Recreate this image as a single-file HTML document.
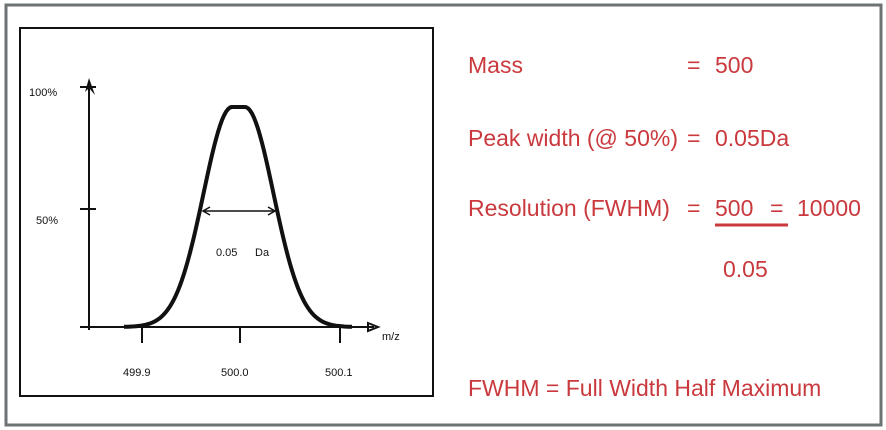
<!DOCTYPE html>
<html><head><meta charset="utf-8"><style>
html,body{margin:0;padding:0;background:#fff;}
svg{display:block;}
.r{font-family:"Liberation Sans",sans-serif;font-size:23px;fill:#c9393d;}
.b{font-family:"Liberation Sans",sans-serif;font-size:11px;fill:#111;}
</style></head><body>
<svg width="886" height="430" viewBox="0 0 886 430" xmlns="http://www.w3.org/2000/svg">
<rect x="0" y="0" width="886" height="430" fill="#fff"/>
<rect x="6" y="5" width="875" height="420" fill="none" stroke="#6d7275" stroke-width="3"/>
<rect x="20" y="28" width="413" height="368" fill="none" stroke="#111" stroke-width="2"/>
<line x1="89" y1="83" x2="89" y2="330" stroke="#111" stroke-width="2"/>
<path d="M89,78 L85,92 L89,88 L95,95 Z" fill="#111"/>
<line x1="80" y1="87" x2="96" y2="87" stroke="#111" stroke-width="2"/>
<line x1="80" y1="209" x2="96" y2="209" stroke="#111" stroke-width="2"/>
<line x1="80" y1="327" x2="374" y2="327" stroke="#111" stroke-width="2"/>
<path d="M368,323 L378,327 L368,331 Z" fill="none" stroke="#111" stroke-width="2"/>
<line x1="142" y1="327" x2="142" y2="343" stroke="#111" stroke-width="2"/>
<line x1="240" y1="327" x2="240" y2="343" stroke="#111" stroke-width="2"/>
<line x1="340" y1="327" x2="340" y2="343" stroke="#111" stroke-width="2"/>
<text class="b" x="29" y="96">100%</text>
<text class="b" x="36" y="224">50%</text>
<text class="b" x="123" y="376">499.9</text>
<text class="b" x="221" y="376">500.0</text>
<text class="b" x="325" y="376">500.1</text>
<text class="b" x="382" y="340">m/z</text>
<text class="b" x="216" y="256">0.05</text>
<text class="b" x="255" y="256">Da</text>
<path id="pk" fill="none" stroke="#111" stroke-width="4" stroke-linejoin="round" d=""/>
<line x1="204" y1="211" x2="274" y2="211" stroke="#111" stroke-width="1.5"/>
<path d="M210,207 L203,211 L210,215" fill="none" stroke="#111" stroke-width="1.5"/>
<path d="M268,207 L275,211 L268,215" fill="none" stroke="#111" stroke-width="1.5"/>
<text class="r" x="468" y="73">Mass</text>
<text class="r" x="687" y="73">=</text>
<text class="r" x="715" y="73">500</text>
<text class="r" x="468" y="146">Peak width (@ 50%)</text>
<text class="r" x="687" y="146">=</text>
<text class="r" x="715" y="146">0.05Da</text>
<text class="r" x="468" y="216">Resolution (FWHM)</text>
<text class="r" x="687" y="216">=</text>
<text class="r" x="715" y="216">500</text>
<text class="r" x="770" y="216">=</text>
<text class="r" x="797" y="216">10000</text>
<line x1="715" y1="225" x2="788" y2="225" stroke="#c9393d" stroke-width="3"/>
<text class="r" x="723" y="277">0.05</text>
<text class="r" x="468" y="396">FWHM = Full Width Half Maximum</text>
</svg>
<script>
var d="",c=238.5,s=28.5,h=220,b=327,f=6.5;
for(var x=124;x<=352;x+=2){var dx=Math.abs(x-c);var e=dx<f?0:dx-f;var y=b-h*Math.exp(-e*e/(2*s*s));d+=(x==124?"M":"L")+x+","+y.toFixed(1);}
document.getElementById("pk").setAttribute("d",d);
</script>
</body></html>
